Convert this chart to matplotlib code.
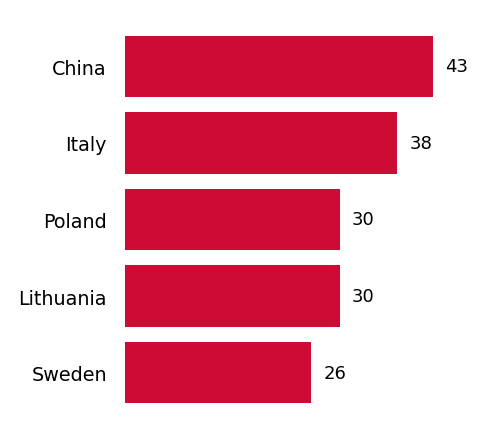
import matplotlib
matplotlib.use('Agg')
import matplotlib.pyplot as plt

countries = ['China', 'Italy', 'Poland', 'Lithuania', 'Sweden']
values = [43, 38, 30, 30, 26]

fig = plt.figure(figsize=(4.87, 4.39), dpi=100)
W, H = 487, 439
# axes placed in pixel coords
ax = fig.add_axes([125 / W, 1 - 412 / H, 344 / W, 383 / H])

ypos = list(range(len(countries)))
ax.barh(ypos, values, height=0.8, color='#CC0C35')
for y, v in zip(ypos, values):
    ax.text(v + 1.7, y, str(v), va='center', ha='left', fontsize=13)

ax.set_yticks(ypos)
ax.set_yticklabels(countries, fontsize=13.8)
ax.set_ylim(4.5, -0.5)
ax.set_xlim(0, 48)
ax.set_xticks([])
ax.tick_params(axis='y', length=0, pad=13)
for s in ax.spines.values():
    s.set_visible(False)

fig.savefig('out.png', dpi=100)
